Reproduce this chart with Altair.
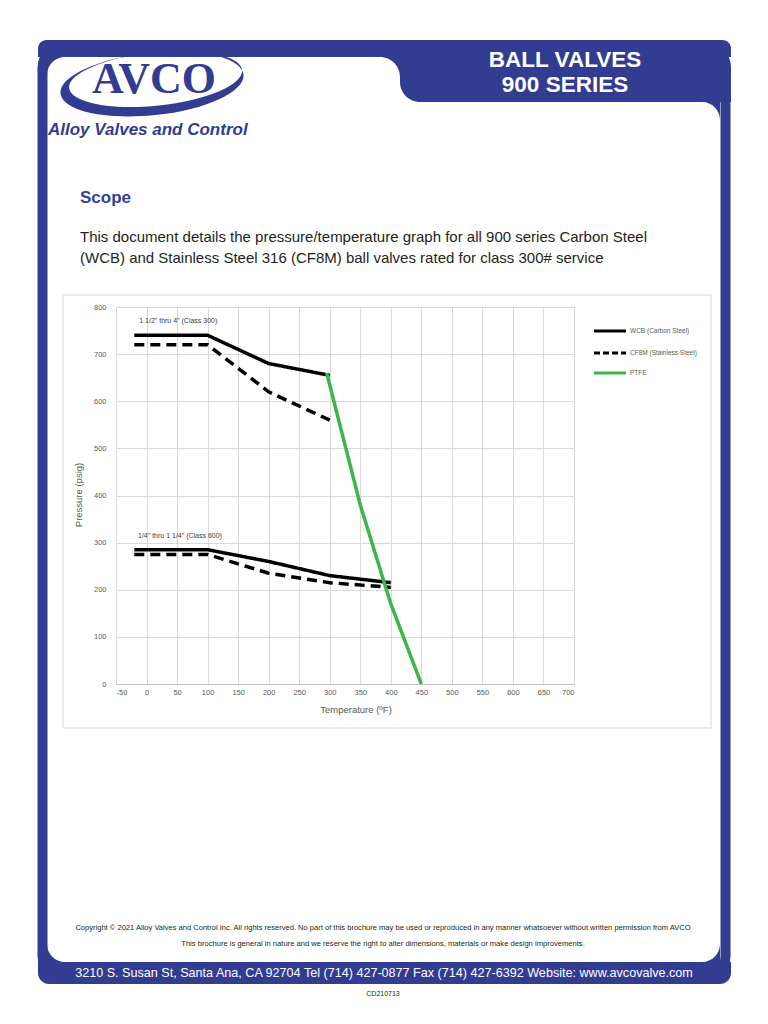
import altair as alt
import pandas as pd

# ---------------- data ----------------
series_names = ["WCB (Carbon Steel)", "CF8M (Stainless Steel)", "PTFE"]
series_colors = ["#000000", "#000000", "#3cb54a"]
series_dash = [[1, 0], [10, 6], [1, 0]]
legend_dash = [[1, 0], [6, 3], [1, 0]]

temp_class300 = [-20, 100, 200, 300]
wcb_class300 = [740, 740, 680, 655]
cf8m_class300 = [720, 720, 620, 560]

temp_class600 = [-20, 100, 200, 300, 400]
wcb_class600 = [285, 285, 260, 230, 215]
cf8m_class600 = [275, 275, 235, 215, 205]

temp_ptfe = [295, 350, 400, 450]
pres_ptfe = [660, 380, 170, 0]

x_ticks = list(range(-50, 701, 50))
y_ticks = list(range(0, 801, 100))

annot_text = ['1 1/2" thru 4" (Class 300)', '1/4" thru 1 1/4" (Class 600)']
annot_temp = [-12, -14]
annot_pres = [771, 314]

# ---------------- styling ----------------
BLUE = "#323c91"
SCOPE_BLUE = "#353f98"
GRAY_TXT = "#595959"
DARK = "#231f20"
FONT = "Liberation Sans"

OX, OY = 116, 307  # page position of the plot origin


def X(v):
    return alt.value(v - OX)


def Y(v):
    return alt.value(v - OY)


ONE = pd.DataFrame({"k": [0]})

rows = []


def add(series, group, temps, pres):
    for i, (t, p) in enumerate(zip(temps, pres)):
        rows.append({"series": series, "group": group, "idx": i, "temp": t, "pres": p})


add(series_names[0], "wcb300", temp_class300, wcb_class300)
add(series_names[1], "cf8m300", temp_class300, cf8m_class300)
add(series_names[0], "wcb600", temp_class600, wcb_class600)
add(series_names[1], "cf8m600", temp_class600, cf8m_class600)
add(series_names[2], "ptfe", temp_ptfe, pres_ptfe)
lines_df = pd.DataFrame(rows)

annot_df = pd.DataFrame({"text": annot_text, "temp": annot_temp, "pres": annot_pres})

layers = []

# ---------------- page frame ----------------
def rect(x1, x2, y1, y2, **kw):
    return alt.Chart(ONE).mark_rect(**kw).encode(x=X(x1), x2=X(x2), y=Y(y1), y2=Y(y2))


layers.append(rect(42.5, 725.5, 45, 979, filled=False, stroke=BLUE, strokeWidth=10, cornerRadius=23))
layers.append(rect(38, 731, 40, 57, color=BLUE, cornerRadiusTopLeft=28, cornerRadiusTopRight=28))
layers.append(rect(400, 731, 40, 102, color=BLUE, cornerRadiusTopRight=28, cornerRadiusBottomLeft=20))
layers.append(rect(38, 731, 962, 984, color=BLUE, cornerRadiusBottomLeft=28, cornerRadiusBottomRight=28))

FILLET = "M-1,-1L1,-1L1,1A2,2,0,0,0,-1,-1Z"


def fillet(cx, cy, side, angle):
    return alt.Chart(ONE).mark_point(
        shape=FILLET, filled=True, fill=BLUE, strokeWidth=0, opacity=1,
        size=side * side, angle=angle
    ).encode(x=X(cx), y=Y(cy))


layers.append(fillet(390, 67, 20, 0))
layers.append(fillet(56, 66, 18, 270))
layers.append(fillet(711, 111, 18, 0))
layers.append(fillet(56, 953, 18, 180))
layers.append(fillet(711, 953, 18, 90))

# logo swoosh (crescent ellipse)
ELLIPSE = ("M-1,0A1,0.34,0,1,1,1,0A1,0.34,0,1,1,-1,0Z"
           "M-0.9,-0.05A0.945,0.29,0,1,0,0.99,-0.05A0.945,0.29,0,1,0,-0.9,-0.05Z")
layers.append(alt.Chart(ONE).mark_point(
    shape=ELLIPSE, filled=True, fill=BLUE, strokeWidth=0, opacity=1,
    size=184 * 184, angle=354
).encode(x=X(152), y=Y(84)))


def text(x, y, s, size, color, weight="normal", align="left", font=FONT, style="normal", angle=0):
    kw = dict(text=s, fontSize=size, color=color, fontWeight=weight, align=align,
              font=font, baseline="alphabetic", fontStyle=style)
    if angle:
        kw["angle"] = angle
    return alt.Chart(ONE).mark_text(**kw).encode(x=X(x), y=Y(y))


layers.append(text(154, 93, "AVCO", 44, BLUE, "bold", "center", "Liberation Serif"))
layers.append(text(48, 135, "Alloy Valves and Control", 17, BLUE, "bold", "left", FONT, "italic"))
layers.append(text(565, 67, "BALL VALVES", 22.5, "white", "bold", "center"))
layers.append(text(565, 92, "900 SERIES", 22.5, "white", "bold", "center"))

layers.append(text(80, 203, "Scope", 17, SCOPE_BLUE, "bold"))
layers.append(text(80, 242, "This document details the pressure/temperature graph for all 900 series Carbon Steel", 15, DARK))
layers.append(text(80, 263, "(WCB) and Stainless Steel 316 (CF8M) ball valves rated for class 300# service", 15, DARK))

# chart box
layers.append(rect(63, 711, 295, 728, filled=False, stroke="#d9d9d9", strokeWidth=1))

# ---------------- data lines ----------------
x_scale = alt.Scale(domain=[-50, 700], nice=False, zero=False)
y_scale = alt.Scale(domain=[0, 800], nice=False)

x_axis = alt.Axis(values=x_ticks, title=None, labelPadding=4, domain=True,
                  domainColor="#bfbfbf", ticks=False, grid=True,
                  labelOverlap=False, labelExpr="datum.value + ''")
y_axis = alt.Axis(values=y_ticks, title=None, labelPadding=10, domain=False,
                  ticks=False, grid=True, labelOverlap=False)

x_enc = alt.X("temp:Q", scale=x_scale, axis=x_axis)
y_enc = alt.Y("pres:Q", scale=y_scale, axis=y_axis)

lines = alt.Chart(lines_df).mark_line(strokeWidth=3.5, strokeCap="butt").encode(
    x=x_enc,
    y=y_enc,
    color=alt.Color("series:N", scale=alt.Scale(domain=series_names, range=series_colors), legend=None),
    strokeDash=alt.StrokeDash("series:N", scale=alt.Scale(domain=series_names, range=series_dash), legend=None),
    detail="group:N",
    order="idx:Q",
)
layers.append(lines)

layers.append(alt.Chart(annot_df).mark_text(
    align="left", baseline="middle", fontSize=7, color="#404040", font=FONT
).encode(x=x_enc, y=y_enc, text="text:N"))

# axis titles
layers.append(text(356, 713, "Temperature (ºF)", 9.5, GRAY_TXT, "normal", "center"))
layers.append(text(82, 495, "Pressure (psig)", 9.5, GRAY_TXT, "normal", "center", angle=270))

# legend
legend_rows = [331, 353, 373]
for i, name in enumerate(series_names):
    layers.append(alt.Chart(ONE).mark_rule(strokeWidth=3, strokeCap="butt").encode(
        x=X(594), x2=X(626), y=Y(legend_rows[i]),
        color=alt.value(series_colors[i]), strokeDash=alt.value(legend_dash[i])))
    layers.append(alt.Chart(ONE).mark_text(
        text=name, fontSize=6.5, color=GRAY_TXT, font=FONT, align="left", baseline="middle"
    ).encode(x=X(630), y=Y(legend_rows[i])))

# footer
layers.append(text(383, 930, "Copyright © 2021 Alloy Valves and Control Inc.  All rights reserved.  No part of this brochure may be used or reproduced in any manner whatsoever without written permission from AVCO", 7.55, DARK, "normal", "center"))
layers.append(text(383, 946, "This brochure is general in nature and we reserve the right to alter dimensions, materials or make design improvements.", 7.6, DARK, "normal", "center"))
layers.append(text(384, 977, "3210 S. Susan St, Santa Ana, CA 92704 Tel (714) 427-0877 Fax (714) 427-6392 Website: www.avcovalve.com", 12.6, "white", "normal", "center"))
layers.append(text(383, 996, "CD210713", 7, DARK, "normal", "center"))

chart = alt.layer(*layers).properties(
    width=458,
    height=377,
    padding={"left": 108, "top": 299, "right": 186, "bottom": 324},
    autosize=alt.AutoSizeParams(type="none"),
    background="white",
).configure_view(stroke=None).configure_axis(
    labelFont=FONT, labelFontSize=7.5, labelColor=GRAY_TXT,
    gridColor="#d9d9d9", gridWidth=1, labelOverlap=False,
).configure_axisX(labelOverlap=False)

chart.save("out.html", embed_options={"renderer": "svg", "actions": False})
